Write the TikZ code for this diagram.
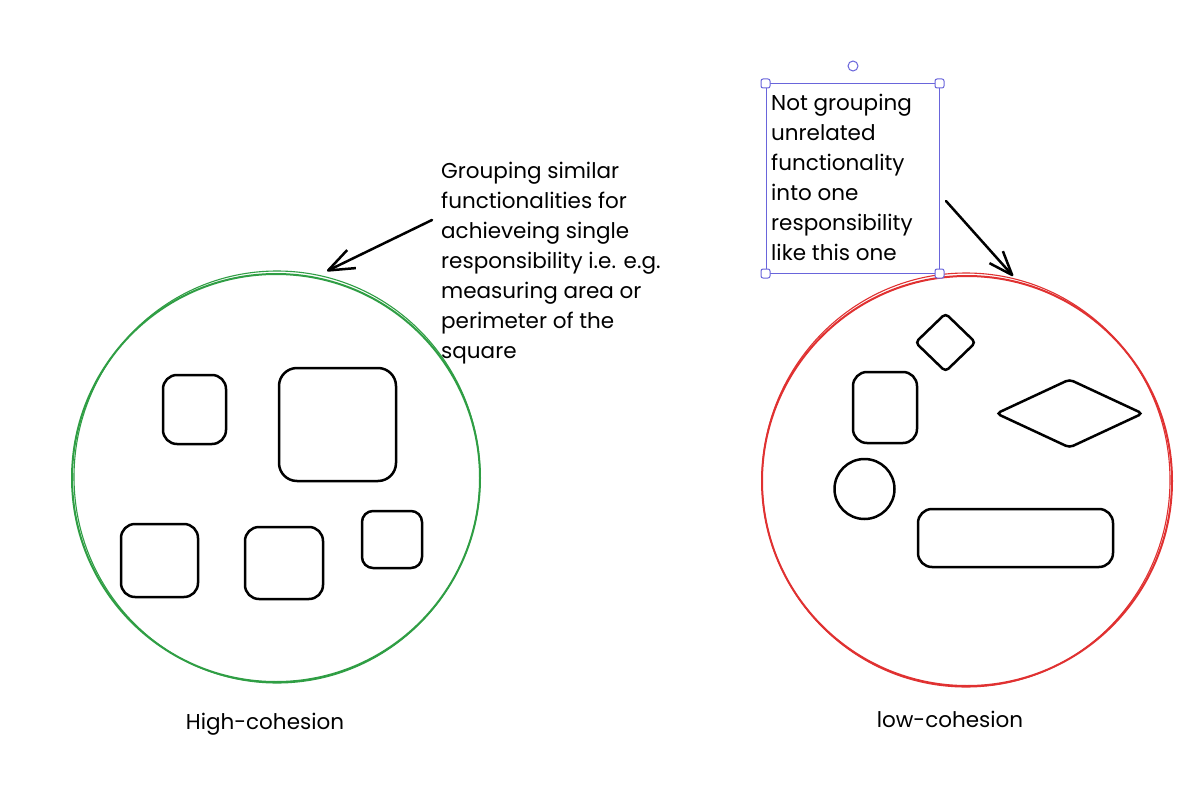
\documentclass[tikz,border=0pt]{standalone}
\usepackage{fontspec}
\setmainfont{Poppins}
\usetikzlibrary{arrows.meta,shapes.geometric}
\definecolor{hgreen}{HTML}{2F9E44}
\definecolor{lred}{HTML}{E03131}
\definecolor{selblue}{HTML}{6965DB}
\begin{document}
\begin{tikzpicture}[x=1pt,y=-1pt,
  shp/.style={draw=black, line width=2.5pt, rounded corners=14pt, inner sep=0pt},
  dia/.style={draw=black, line width=2.5pt, diamond, rounded corners=4pt, inner sep=0pt, aspect=#1},
  ring/.style={circle, line width=2pt, inner sep=0pt},
  txt/.style={font=\fontsize{21.5}{30}\selectfont, align=left, inner sep=0pt},
  arr/.style={line width=2.5pt, line cap=round, -{Straight Barb[length=26pt,width=20pt,line width=2.5pt, line join=round]}},
  handle/.style={draw=selblue, fill=white, rounded corners=2pt, minimum size=9pt, inner sep=0pt, line width=1pt}
]
\useasboundingbox (0,0) rectangle (1200,792);
\fill[white] (0,0) rectangle (1200,792);

% high cohesion
\node[ring, draw=hgreen, minimum size=408pt] (hc) at (276,478) {};
\draw[hgreen, line width=1.1pt] (277,477) ellipse (203 and 206);
\node[shp, minimum width=63pt, minimum height=69pt] (h1) at (194.5,409.5) {};
\node[shp, minimum width=117pt, minimum height=113pt, rounded corners=18pt] (h2) at (337.5,424.5) {};
\node[shp, minimum width=77pt, minimum height=73pt] (h3) at (159.5,560.5) {};
\node[shp, minimum width=78pt, minimum height=72pt] (h4) at (284,563) {};
\node[shp, minimum width=60pt, minimum height=57pt, rounded corners=11pt] (h5) at (392,539.5) {};
\node[txt, anchor=north west] (htxt) at (441,162) {Grouping similar\\functionalities for\\achieveing single\\responsibility i.e. e.g.\\measuring area or\\perimeter of the\\square};
\coordinate (a1s) at (432,220);
\coordinate (a1e) at (327,271);
\draw[arr] (a1s) -- (a1e);
\node[txt, anchor=base] (hlab) at (265,729) {High-cohesion};

% low cohesion
\node[ring, draw=lred, minimum size=410pt] (lc) at (967,481) {};
\draw[lred, line width=1.1pt] (966,480) ellipse (204 and 207);
\node[dia=1, minimum width=61pt, minimum height=59pt] (l1) at (945.5,342.5) {};
\node[shp, minimum width=64pt, minimum height=71pt] (l2) at (885,407.5) {};
\node[dia=2.1, minimum width=147pt, minimum height=69pt] (l3) at (1069.5,413.5) {};
\node[ring, draw=black, line width=2.5pt, minimum size=60pt] (l4) at (864.5,489) {};
\node[shp, minimum width=195pt, minimum height=58pt] (l5) at (1015.5,538) {};
\node[txt, anchor=base] (llab) at (950,727) {low-cohesion};

% selection box with text
\node[draw=selblue, line width=1pt, minimum width=173pt, minimum height=189pt, inner sep=0pt] (sel) at (852.5,178.5) {};
\node[txt, anchor=north west] (ltxt) at (771,94) {Not grouping\\unrelated\\functionality\\into one\\responsibility\\like this one};
\node[handle] (hnw) at (sel.north west) {};
\node[handle] (hne) at (sel.north east) {};
\node[handle] (hsw) at (sel.south west) {};
\node[handle] (hse) at (sel.south east) {};
\node[circle, draw=selblue, fill=white, line width=1pt, minimum size=10pt, inner sep=0pt] (rot) at (853,66) {};
\coordinate (a2s) at (946,201);
\coordinate (a2e) at (1013,276);
\draw[arr, -{Straight Barb[length=24pt,width=18pt,line width=2.5pt, line join=round]}] (a2s) -- (a2e);
\end{tikzpicture}
\end{document}
